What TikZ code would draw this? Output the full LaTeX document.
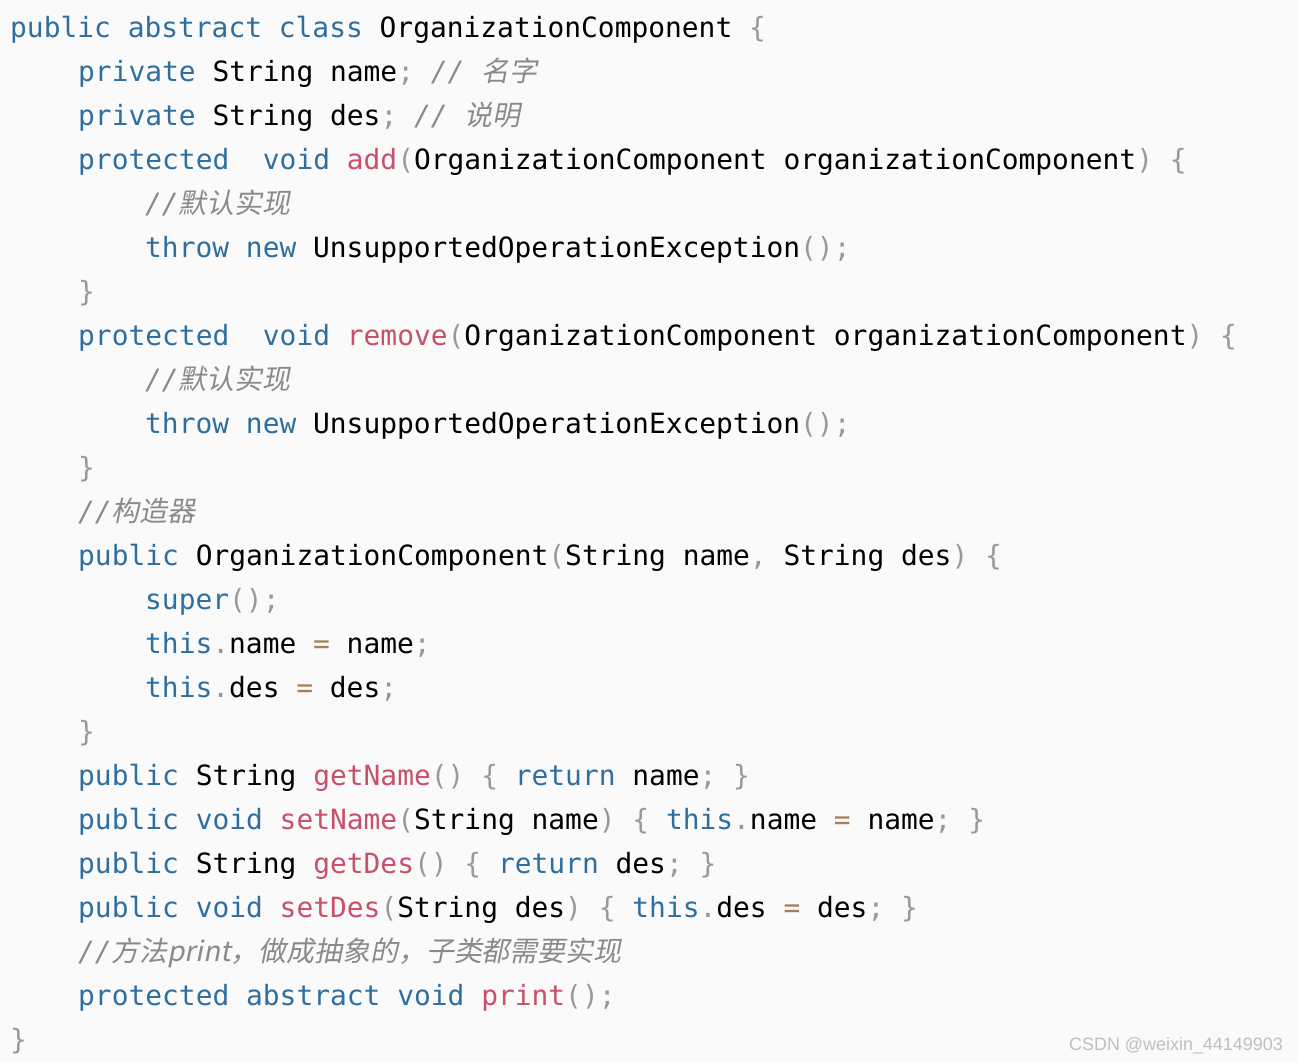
\documentclass[tikz,border=0pt]{standalone}
\usepackage{fontspec}
\setmonofont{DejaVu Sans Mono}
\newfontfamily\cjk[FakeSlant=0.2]{Noto Sans CJK SC}
\newfontfamily\wm{Liberation Sans}
\definecolor{kw}{HTML}{2F6F9F}
\definecolor{fn}{HTML}{C8506A}
\definecolor{pu}{HTML}{999999}
\definecolor{cm}{HTML}{8A8A8A}
\definecolor{eqc}{HTML}{A67F59}
\definecolor{bg}{HTML}{FAFAFA}
\newcommand\K[1]{{\color{kw}#1}}
\newcommand\F[1]{{\color{fn}#1}}
\newcommand\Pu[1]{{\color{pu}#1}}
\newcommand\Cm[1]{{\color{cm}\itshape #1}}
\newcommand\E[1]{{\color{eqc}#1}}
\begin{document}
\begin{tikzpicture}[x=1bp,y=1bp,
  code/.style={anchor=base west,inner sep=0,font=\ttfamily\fontsize{28}{44}\selectfont,text=black}]
\fill[bg] (0,0) rectangle (1298,-1062);
\useasboundingbox (0,0) rectangle (1298,-1062);
\def\a{10}\def\b{78}\def\c{145}
\node[code] (l1) at (\a,-37) {\K{public abstract class} OrganizationComponent \Pu{\{}};
\node[code] (l2) at (\b,-81) {\K{private} String name\Pu{;} \Cm{// \cjk{名字}}};
\node[code] (l3) at (\b,-125) {\K{private} String des\Pu{;} \Cm{// \cjk{说明}}};
\node[code] (l4) at (\b,-169) {\K{protected}~ \K{void} \F{add}\Pu{(}OrganizationComponent organizationComponent\Pu{)} \Pu{\{}};
\node[code] (l5) at (\c,-213) {\Cm{//\cjk{默认实现}}};
\node[code] (l6) at (\c,-257) {\K{throw new} UnsupportedOperationException\Pu{();}};
\node[code] (l7) at (\b,-301) {\Pu{\}}};
\node[code] (l8) at (\b,-345) {\K{protected}~ \K{void} \F{remove}\Pu{(}OrganizationComponent organizationComponent\Pu{)} \Pu{\{}};
\node[code] (l9) at (\c,-389) {\Cm{//\cjk{默认实现}}};
\node[code] (l10) at (\c,-433) {\K{throw new} UnsupportedOperationException\Pu{();}};
\node[code] (l11) at (\b,-477) {\Pu{\}}};
\node[code] (l12) at (\b,-521) {\Cm{//\cjk{构造器}}};
\node[code] (l13) at (\b,-565) {\K{public} OrganizationComponent\Pu{(}String name\Pu{,} String des\Pu{)} \Pu{\{}};
\node[code] (l14) at (\c,-609) {\K{super}\Pu{();}};
\node[code] (l15) at (\c,-653) {\K{this}\Pu{.}name \E{=} name\Pu{;}};
\node[code] (l16) at (\c,-697) {\K{this}\Pu{.}des \E{=} des\Pu{;}};
\node[code] (l17) at (\b,-741) {\Pu{\}}};
\node[code] (l18) at (\b,-785) {\K{public} String \F{getName}\Pu{()} \Pu{\{} \K{return} name\Pu{;} \Pu{\}}};
\node[code] (l19) at (\b,-829) {\K{public void} \F{setName}\Pu{(}String name\Pu{)} \Pu{\{} \K{this}\Pu{.}name \E{=} name\Pu{;} \Pu{\}}};
\node[code] (l20) at (\b,-873) {\K{public} String \F{getDes}\Pu{()} \Pu{\{} \K{return} des\Pu{;} \Pu{\}}};
\node[code] (l21) at (\b,-917) {\K{public void} \F{setDes}\Pu{(}String des\Pu{)} \Pu{\{} \K{this}\Pu{.}des \E{=} des\Pu{;} \Pu{\}}};
\node[code] (l22) at (\b,-961) {\Cm{//\cjk{方法}print\cjk{，做成抽象的，子类都需要实现}}};
\node[code] (l23) at (\b,-1005) {\K{protected abstract void} \F{print}\Pu{();}};
\node[code] (l24) at (\a,-1049) {\Pu{\}}};
\node[anchor=base east,inner sep=0,font=\wm\fontsize{18}{20}\selectfont,text=black!25] (wm) at (1283,-1050) {CSDN @weixin\_44149903};
\end{tikzpicture}
\end{document}
